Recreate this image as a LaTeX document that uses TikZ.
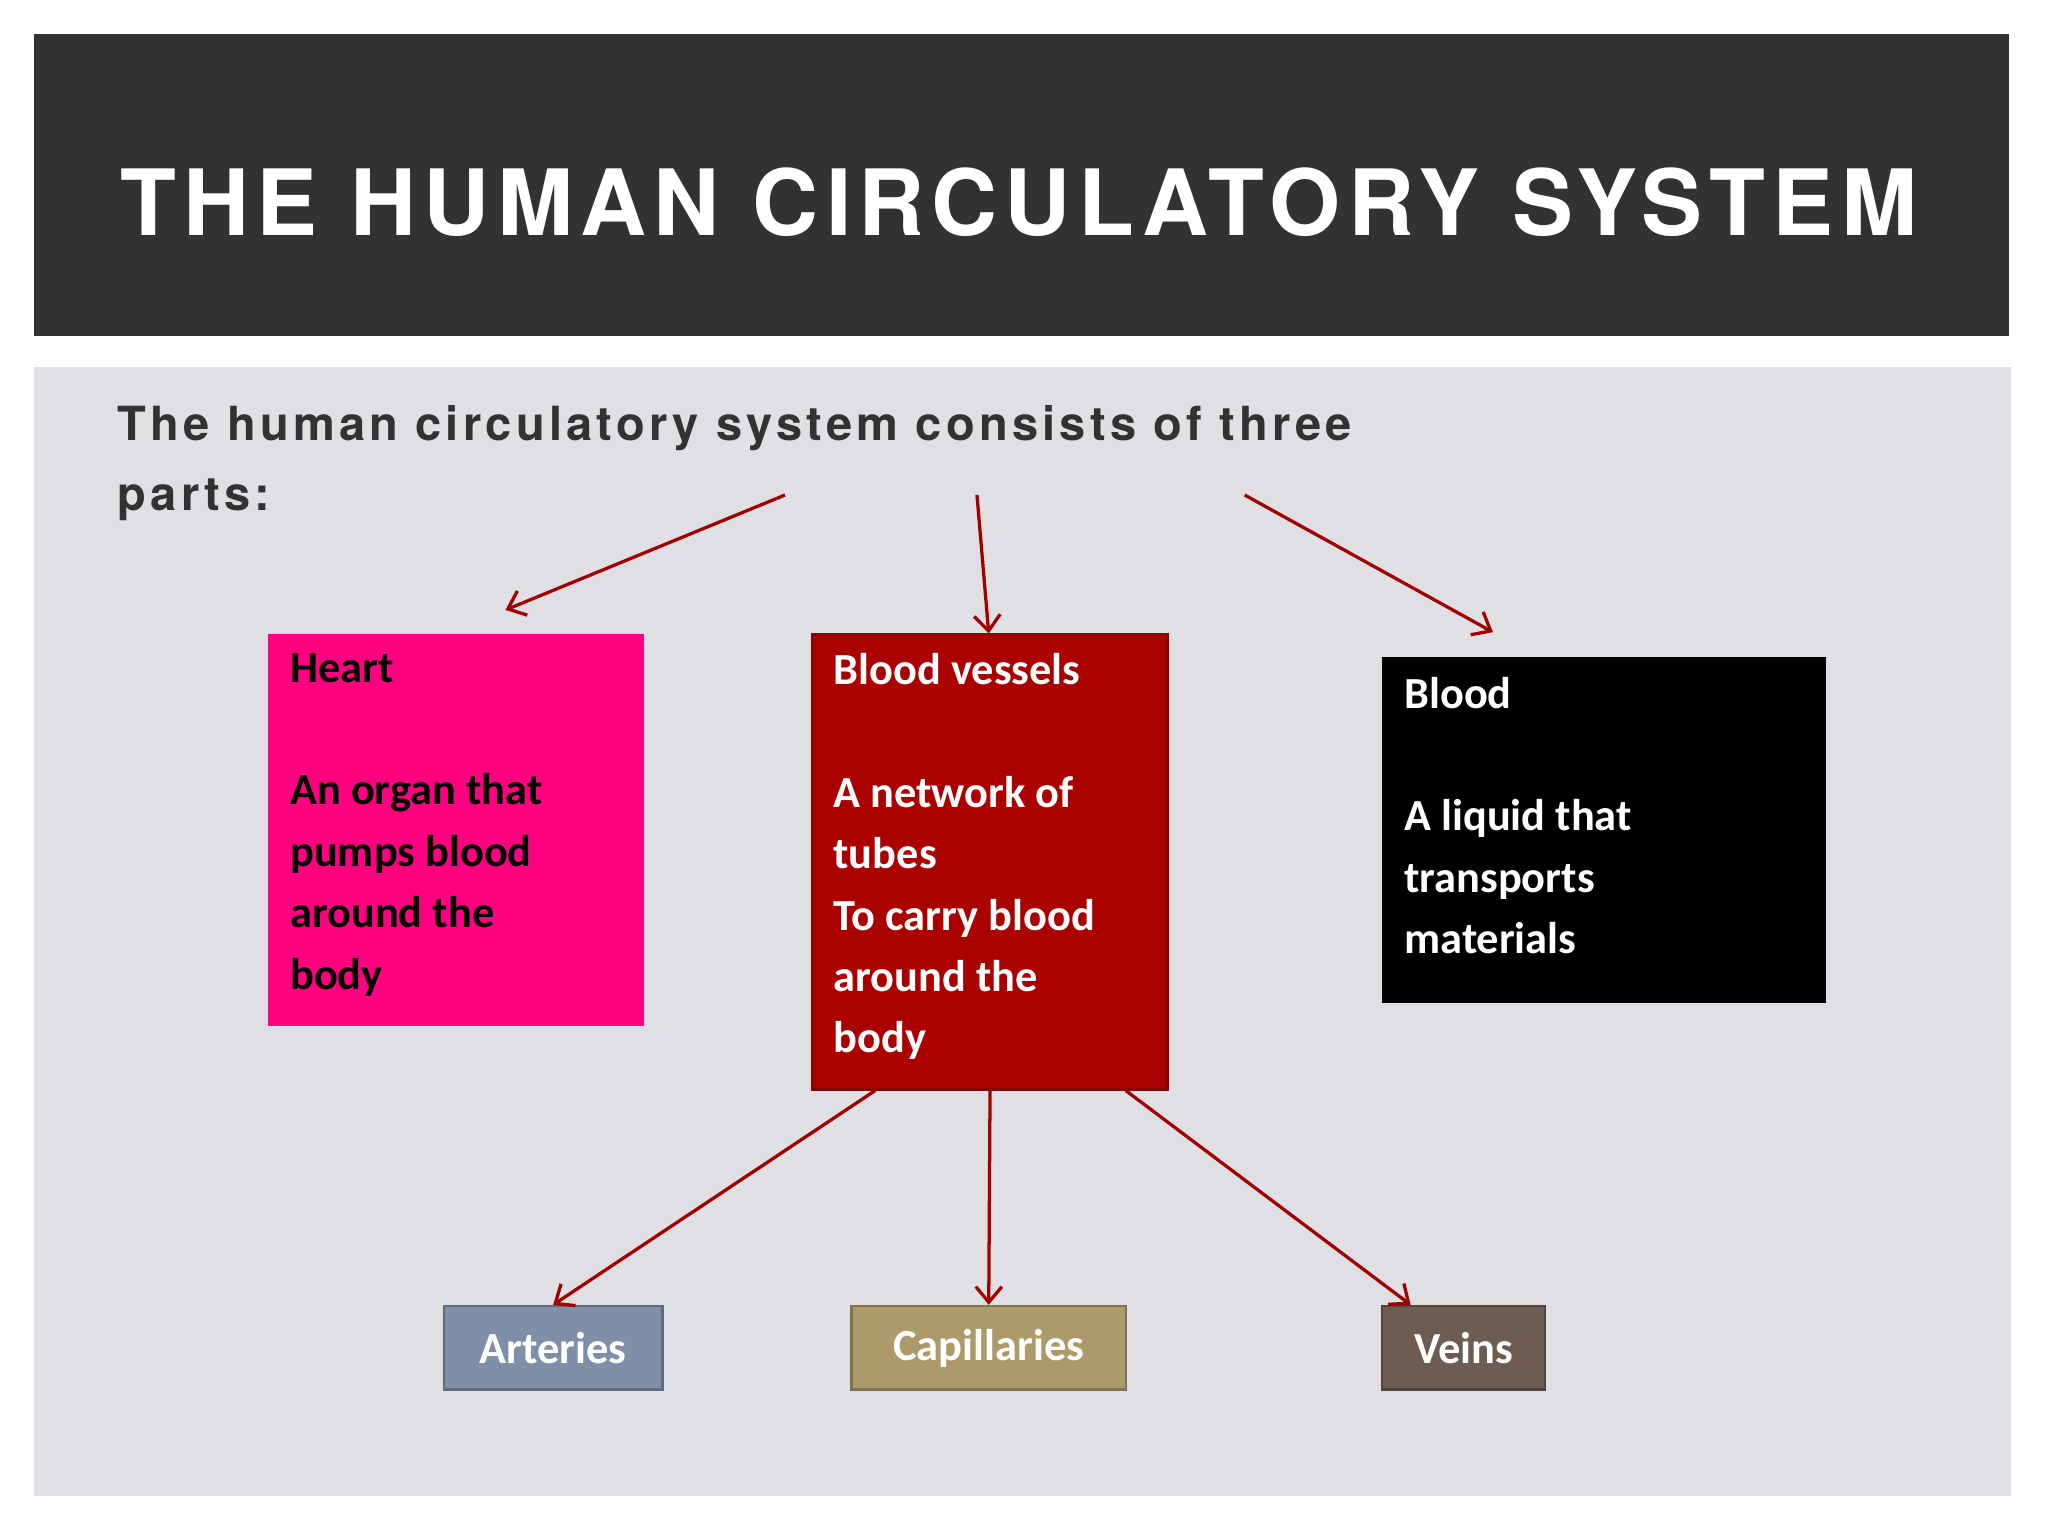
\documentclass[tikz,border=0pt]{standalone}
\usepackage{fontspec}
\setmainfont{Carlito}
\newfontfamily\titlefont[LetterSpace=8]{TeX Gyre Heros}
\newfontfamily\introfont[LetterSpace=9]{TeX Gyre Heros}
\usetikzlibrary{arrows.meta}
\definecolor{titlebg}{HTML}{323232}
\definecolor{panel}{HTML}{E0DFE3}
\definecolor{arr}{HTML}{A00000}
\definecolor{heart}{HTML}{FF0080}
\definecolor{vessel}{HTML}{AA0000}
\definecolor{art}{HTML}{7F8FA9}
\definecolor{cap}{HTML}{AD9A6B}
\definecolor{vein}{HTML}{6E5B52}
\begin{document}
\begin{tikzpicture}[x=1pt,y=-1pt,
  box/.style={draw=none,inner sep=0pt,anchor=north west},
  boxtext/.style={anchor=north west,align=left,inner sep=0pt,font=\fontsize{34}{47}\selectfont\bfseries},
  small/.style={draw=#1!75!black,line width=2pt,inner sep=0pt,fill=#1,text=white,font=\fontsize{34}{40}\selectfont\bfseries,minimum height=64pt},
  link/.style={draw=arr,line width=2.5pt,-{Straight Barb[length=12pt,width=20pt,line width=2.5pt]}}]
\useasboundingbox (0,0) rectangle (1568,1176);
\fill[white] (0,0) rectangle (1568,1176);
\fill[titlebg] (26,26) rectangle (1538,257);
\node[text=white,font=\titlefont\fontsize{70}{80}\selectfont\bfseries] (title) at (780,155) {THE HUMAN CIRCULATORY SYSTEM};
\fill[panel] (26,281) rectangle (1540,1145);
\node[anchor=north west,align=left,text=titlebg,inner sep=0pt,font=\introfont\fontsize{36}{54}\selectfont\bfseries] (intro) at (90,310) {The human circulatory system consists of three\\parts:};
% boxes
\node[box,fill=heart,minimum width=288pt,minimum height=300pt] (heart) at (205,485) {};
\node[box,fill=vessel,draw=vessel!80!black,line width=2pt,minimum width=272pt,minimum height=348pt] (vessels) at (621,485) {};
\node[box,fill=black,minimum width=340pt,minimum height=265pt] (blood) at (1058,503) {};
\node[boxtext,text=black] at ([shift={(17,15)}]heart.north west) {Heart\\[47pt]An organ that\\pumps blood\\around the\\body};
\node[boxtext,text=white] at ([shift={(17,15)}]vessels.north west) {Blood vessels\\[47pt]A network of\\tubes\\To carry blood\\around the\\body};
\node[boxtext,text=white] at ([shift={(17,15)}]blood.north west) {Blood\\[47pt]A liquid that\\transports\\materials};
\node[small=art,minimum width=167pt] (arteries) at (423.5,1032) {Arteries};
\node[small=cap,minimum width=210pt] (caps) at (757,1032) {Capillaries};
\node[small=vein,minimum width=125pt] (veins) at (1120.5,1032) {Veins};
% arrows
\coordinate (s1) at (601,379);
\coordinate (s2) at (748,379);
\coordinate (s3) at (953,379);
\draw[link] (s1) -- (387,467);
\draw[link] (s2) -- (vessels.north -| 757,0);
\draw[link] (s3) -- (1143,484);
\draw[link] (vessels.south -| 670,0) -- (arteries.north);
\draw[link] (vessels.south) -- (caps.north);
\draw[link] (vessels.south -| 862,0) -- (veins.north -| 1080,0);
\end{tikzpicture}
\end{document}
